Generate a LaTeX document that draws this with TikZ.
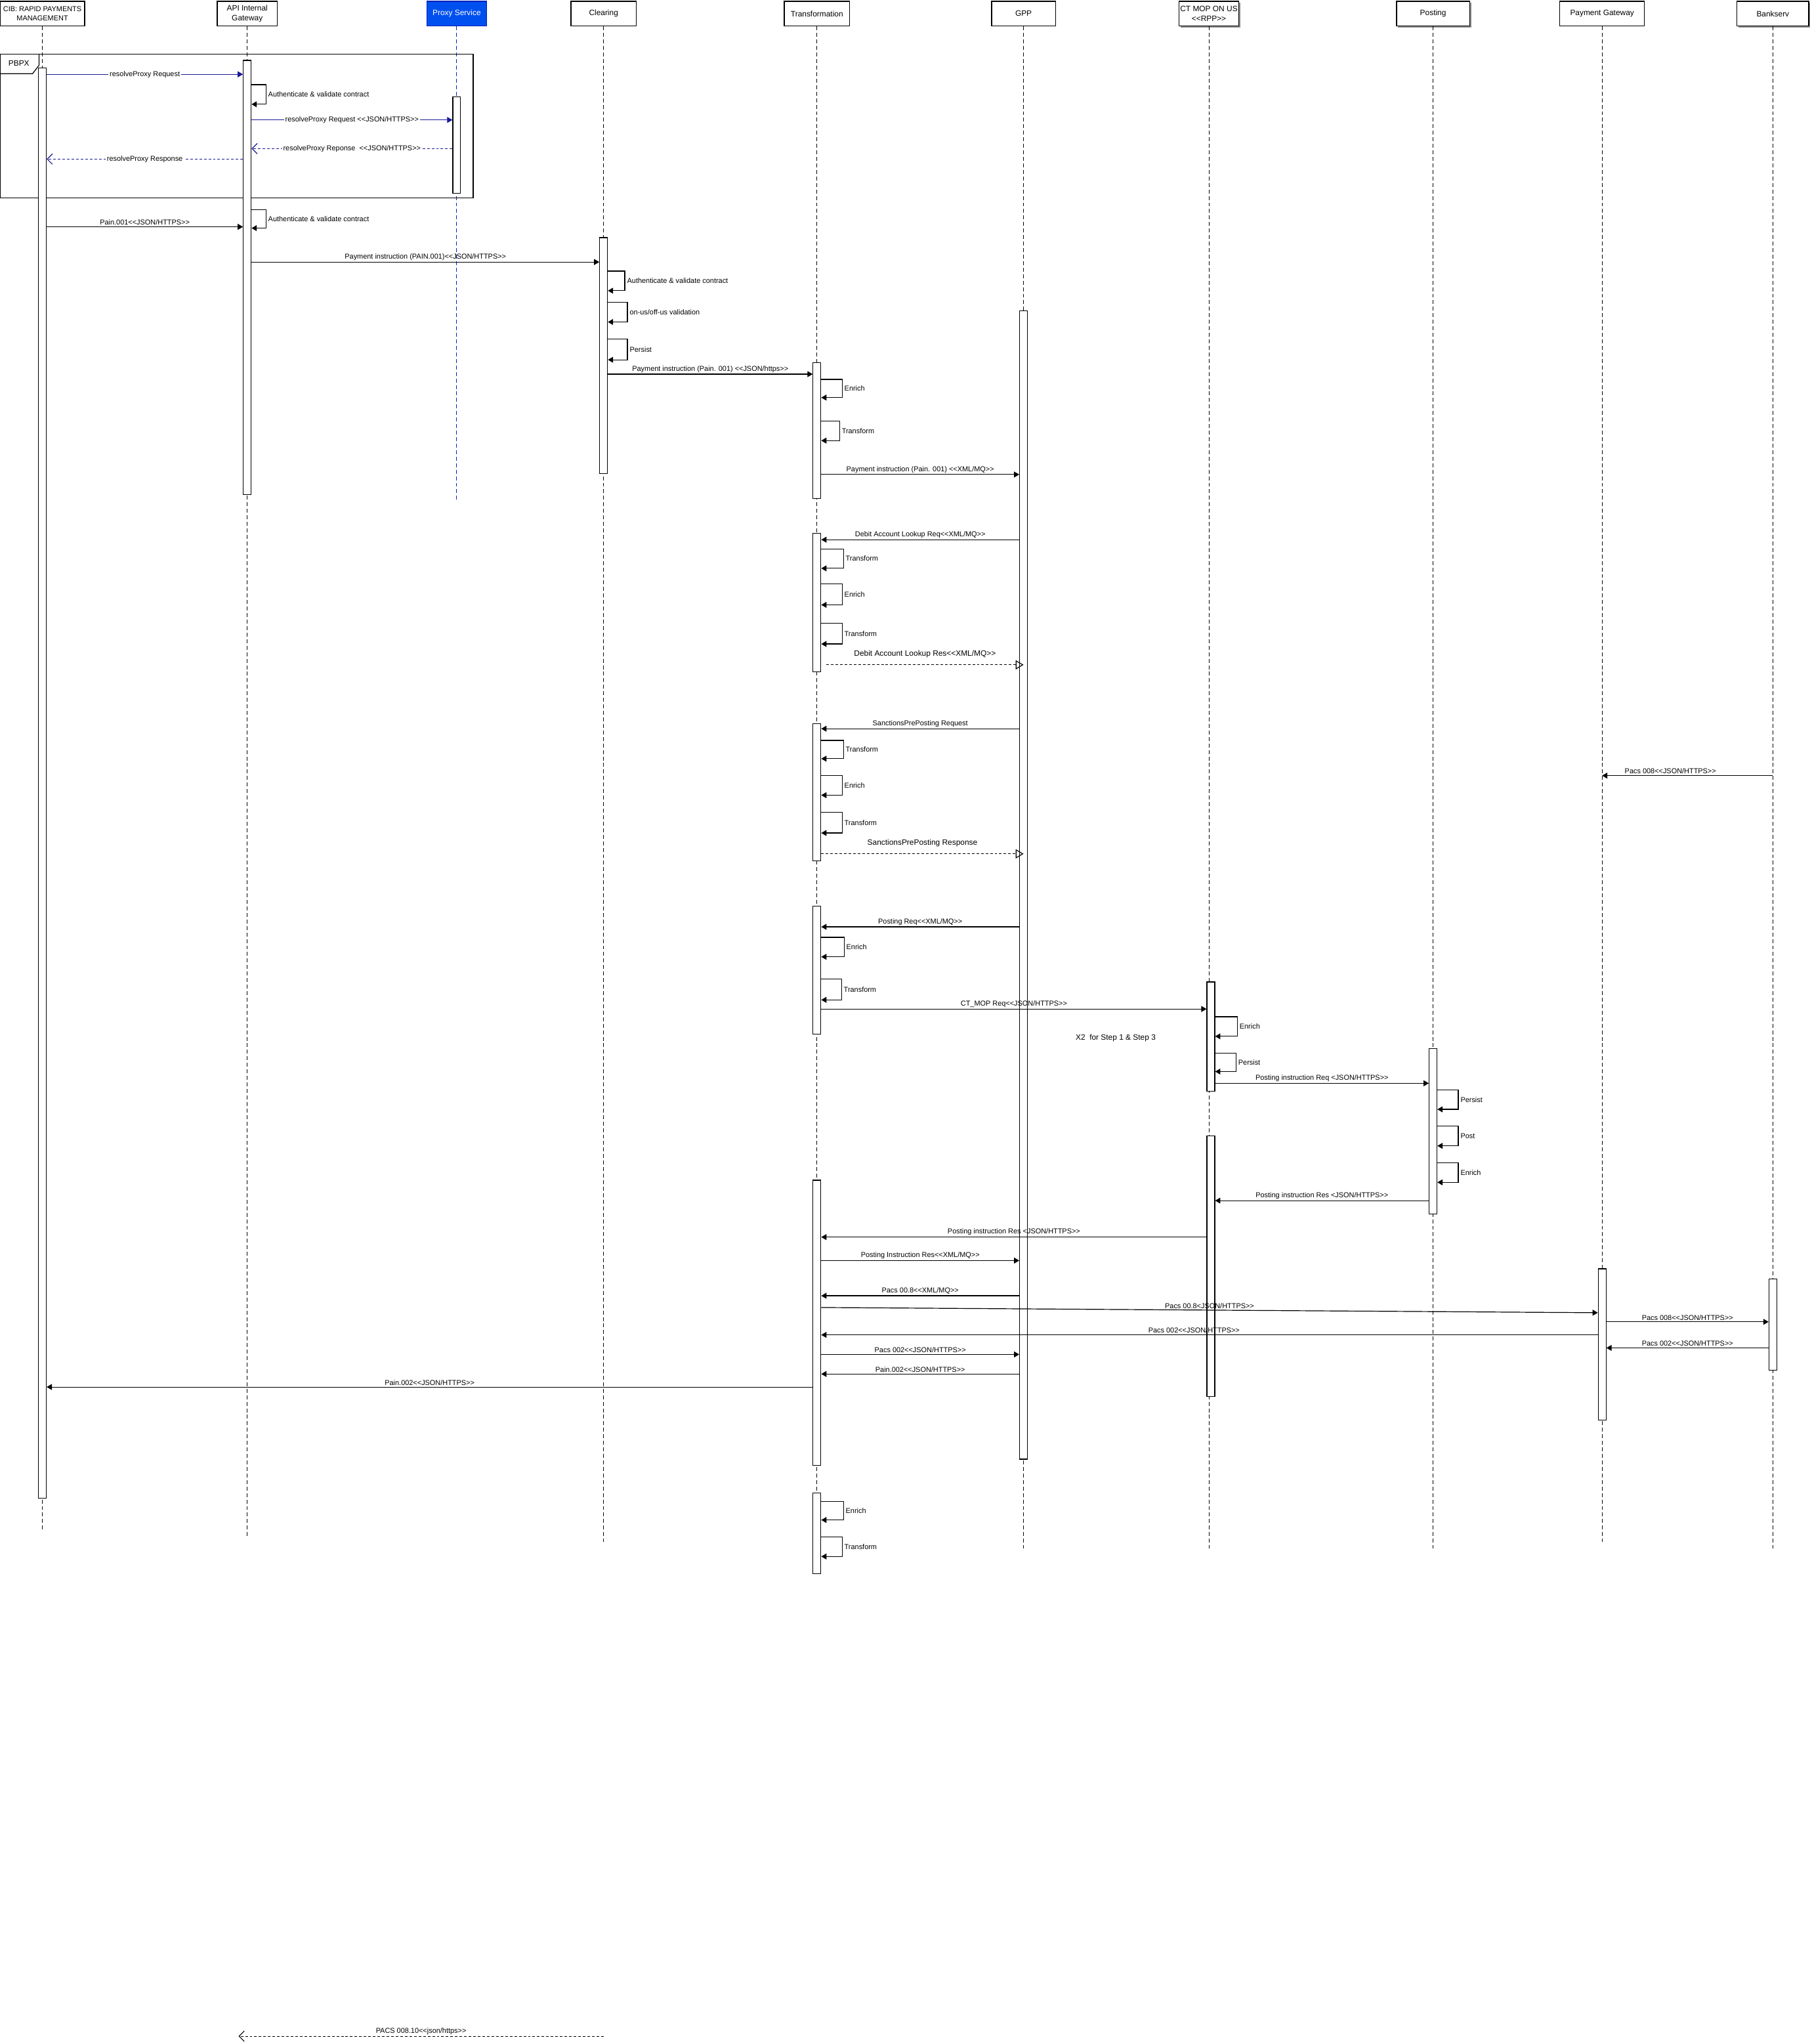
\documentclass[tikz,border=0pt]{standalone}
\usepackage{fontspec}
\newfontfamily\seqfont{Liberation Sans}
\usetikzlibrary{positioning}
\usetikzlibrary{arrows.meta}
\usetikzlibrary{shadows}
\definecolor{proxyfill}{RGB}{0,80,239}
\definecolor{proxyedge}{RGB}{0,29,188}
\definecolor{callblue}{RGB}{25,25,150}
\tikzset{actor/.style={draw,fill=white,minimum height=19pt,inner sep=1pt,align=center,line width=0.7pt,font=\seqfont\fontsize{6}{7.5}\selectfont},
  shadowed/.style={drop shadow={shadow xshift=1.2pt,shadow yshift=-1.2pt,fill=black!45,opacity=1}},
  lifeline/.style={dash pattern=on 3pt off 2pt,line width=0.5pt},
  actbar/.style={draw,fill=white,minimum width=6pt,inner sep=0pt,anchor=north,line width=0.6pt},
  msg/.style={line width=0.6pt,-{Triangle[length=4pt,width=4.5pt]}},
  ret/.style={line width=0.6pt,dash pattern=on 2pt off 1.5pt,-{Triangle[open,length=6pt,width=7pt]}},
  reply/.style={line width=0.6pt,dash pattern=on 2pt off 1.5pt,-{Straight Barb[length=4pt,width=8pt]}},
  bluemsg/.style={msg,draw=callblue},
  bluereply/.style={reply,draw=callblue},
  lbl/.style={above,inner sep=1pt,font=\seqfont\fontsize{5.5}{6.6}\selectfont},
  biglbl/.style={above=4pt,inner sep=1pt,font=\seqfont\fontsize{6}{7.2}\selectfont},
  onlbl/.style={fill=white,inner sep=1pt,font=\seqfont\fontsize{5.5}{6.6}\selectfont},
  selflbl/.style={right,inner sep=1.5pt,font=\seqfont\fontsize{5.5}{6.6}\selectfont},
}

\begin{document}
\begin{tikzpicture}[x=1pt,y=-1pt]
    \useasboundingbox (0,0) rectangle (1390,1568);

    % participants
    \node[actor,minimum width=65pt,font=\seqfont\fontsize{5.5}{7}\selectfont] (cib) at (32.5,10.5) {CIB: RAPID PAYMENTS\\MANAGEMENT};
    \node[actor,minimum width=46pt] (api) [right = 101pt of cib] {API Internal\\Gateway};
    \node[actor,minimum width=46pt,fill=proxyfill,draw=proxyedge,text=white] (proxy) [right = 114pt of api] {Proxy Service};
    \node[actor,minimum width=50pt] (clr) [right = 64pt of proxy] {Clearing};
    \node[actor,minimum width=50pt] (trn) [right = 113pt of clr] {Transformation};
    \node[actor,minimum width=49pt] (gpp) [right = 108.3pt of trn] {GPP};
    \node[actor,minimum width=45pt,shadowed] (ct) [right = 94pt of gpp] {CT MOP ON US\\<<RPP>>};
    \node[actor,minimum width=56pt,shadowed] (post) [right = 120.3pt of ct] {Posting};
    \node[actor,minimum width=65pt] (pg) [right = 68.5pt of post] {Payment Gateway};
    \node[actor,minimum width=55pt,shadowed] (bank) [right = 70.3pt of pg] {Bankserv};

    % lifelines
    \draw[lifeline] (cib.south) -- (cib.south |- 0,1173);
    \draw[lifeline] (api.south) -- (api.south |- 0,1180);
    \draw[lifeline,draw=proxyedge] (proxy.south) -- (proxy.south |- 0,385);
    \draw[lifeline] (clr.south) -- (clr.south |- 0,1183);
    \draw[lifeline] (trn.south) -- (trn.south |- 0,1207);
    \draw[lifeline] (gpp.south) -- (gpp.south |- 0,1188);
    \draw[lifeline] (ct.south) -- (ct.south |- 0,1188);
    \draw[lifeline] (post.south) -- (post.south |- 0,1188);
    \draw[lifeline] (pg.south) -- (pg.south |- 0,1183);
    \draw[lifeline] (bank.south) -- (bank.south |- 0,1188);

    % PBPX fragment
    \draw[line width=0.6pt] (0,41.5) rectangle (363,152);
    \draw[line width=0.6pt] (0,56.5) -- (25,56.5) -- (30,50) -- (30,41.5);
    \node[font=\seqfont\fontsize{6}{7}\selectfont,inner sep=0pt] (pbpx) at (14.5,48.7) {PBPX};

    % activations
    \node[actbar,minimum height=1097pt] (cibA) at (cib.south |- 0,52) {};
    \node[actbar,minimum height=333pt] (apiA) at (api.south |- 0,46) {};
    \node[actbar,minimum height=74pt] (proxyA) at (proxy.south |- 0,74) {};
    \node[actbar,minimum height=181pt] (clrA) at (clr.south |- 0,182) {};
    \node[actbar,minimum height=881pt] (gppA) at (gpp.south |- 0,238) {};
    \node[actbar,minimum height=104pt] (trnA1) at (trn.south |- 0,278) {};
    \node[actbar,minimum height=106pt] (trnA2) at (trn.south |- 0,409) {};
    \node[actbar,minimum height=105pt] (trnA3) at (trn.south |- 0,555) {};
    \node[actbar,minimum height=98pt] (trnA4) at (trn.south |- 0,695) {};
    \node[actbar,minimum height=84pt] (ctA1) at ([xshift=1.5pt]ct.south |- 0,753) {};
    \node[actbar,minimum height=200pt] (ctA2) at ([xshift=1.5pt]ct.south |- 0,871) {};
    \node[actbar,minimum height=127pt] (postA) at (post.south |- 0,804) {};
    \node[actbar,minimum height=219pt] (trnA5) at (trn.south |- 0,905) {};
    \node[actbar,minimum height=116pt] (pgA) at (pg.south |- 0,973) {};
    \node[actbar,minimum height=70pt] (bankA) at (bank.south |- 0,981) {};
    \node[actbar,minimum height=62pt] (trnA6) at (trn.south |- 0,1145) {};

    % proxy resolution
    \draw[bluemsg] (cibA.east |- 0,57) -- node[onlbl] {resolveProxy Request} (apiA.west |- 0,57);
    \draw[msg] (apiA.east |- 0,65) -- ++(11,0) |- node[selflbl,pos=0.25] {Authenticate \& validate contract} (apiA.east |- 0,80);
    \draw[bluemsg] (apiA.east |- 0,92) -- node[onlbl] {resolveProxy Request <<JSON/HTTPS>>} (proxyA.west |- 0,92);
    \draw[bluereply] (proxyA.west |- 0,114) -- node[onlbl] {resolveProxy Reponse \ <<JSON/HTTPS>>} (apiA.east |- 0,114);
    \draw[bluereply] (apiA.west |- 0,122) -- node[onlbl] {resolveProxy Response} (cibA.east |- 0,122);

    % payment initiation
    \draw[msg] (apiA.east |- 0,161) -- ++(11,0) |- node[selflbl,pos=0.25] {Authenticate \& validate contract} (apiA.east |- 0,175);
    \draw[msg] (cibA.east |- 0,174) -- node[lbl] {Pain.001<<JSON/HTTPS>>} (apiA.west |- 0,174);
    \draw[msg] (apiA.east |- 0,201) -- node[lbl] {Payment instruction (PAIN.001)<<JSON/HTTPS>>} (clrA.west |- 0,201);
    \draw[msg] (clrA.east |- 0,208) -- ++(13,0) |- node[selflbl,pos=0.25] {Authenticate \& validate contract} (clrA.east |- 0,223);
    \draw[msg] (clrA.east |- 0,232) -- ++(15,0) |- node[selflbl,pos=0.25] {on-us/off-us validation} (clrA.east |- 0,247);
    \draw[msg] (clrA.east |- 0,260) -- ++(15,0) |- node[selflbl,pos=0.25] {Persist} (clrA.east |- 0,276);
    \draw[msg] (clrA.east |- 0,287) -- node[lbl] {Payment instruction (Pain. 001) <<JSON/https>>} (trnA1.west |- 0,287);
    \draw[msg] (trnA1.east |- 0,291) -- ++(16,0) |- node[selflbl,pos=0.25] {Enrich} (trnA1.east |- 0,305);
    \draw[msg] (trnA1.east |- 0,323) -- ++(14,0) |- node[selflbl,pos=0.25] {Transform} (trnA1.east |- 0,338);
    \draw[msg] (trnA1.east |- 0,364) -- node[lbl] {Payment instruction (Pain. 001) <<XML/MQ>>} (gppA.west |- 0,364);

    % debit account lookup
    \draw[msg] (gppA.west |- 0,414) -- node[lbl] {Debit Account Lookup Req<<XML/MQ>>} (trnA2.east |- 0,414);
    \draw[msg] (trnA2.east |- 0,421) -- ++(17,0) |- node[selflbl,pos=0.25] {Transform} (trnA2.east |- 0,436);
    \draw[msg] (trnA2.east |- 0,448) -- ++(16,0) |- node[selflbl,pos=0.25] {Enrich} (trnA2.east |- 0,464);
    \draw[msg] (trnA2.east |- 0,478) -- ++(16,0) |- node[selflbl,pos=0.25] {Transform} (trnA2.east |- 0,494);
    \coordinate (lookupRes) at (634,510);
    \draw[ret] (lookupRes) -- node[biglbl] {Debit Account Lookup Res<<XML/MQ>>} (gppA.center |- lookupRes);

    % sanctions
    \draw[msg] (gppA.west |- 0,559) -- node[lbl] {SanctionsPrePosting Request} (trnA3.east |- 0,559);
    \draw[msg] (trnA3.east |- 0,568) -- ++(17,0) |- node[selflbl,pos=0.25] {Transform} (trnA3.east |- 0,582);
    \draw[msg] (trnA3.east |- 0,595) -- ++(16,0) |- node[selflbl,pos=0.25] {Enrich} (trnA3.east |- 0,610);
    \draw[msg] (trnA3.east |- 0,623) -- ++(16,0) |- node[selflbl,pos=0.25] {Transform} (trnA3.east |- 0,639);
    \draw[ret] (trnA3.east |- 0,655) -- node[biglbl] {SanctionsPrePosting Response} (gppA.center |- 0,655);
    \draw[msg] (bank.south |- 0,595) -- node[lbl,pos=0.6] {Pacs 008<<JSON/HTTPS>>} (pg.south |- 0,595);

    % posting
    \draw[msg] (gppA.west |- 0,711) -- node[lbl] {Posting Req<<XML/MQ>>} (trnA4.east |- 0,711);
    \draw[msg] (trnA4.east |- 0,719) -- ++(17.5,0) |- node[selflbl,pos=0.25] {Enrich} (trnA4.east |- 0,734);
    \draw[msg] (trnA4.east |- 0,751) -- ++(15.5,0) |- node[selflbl,pos=0.25] {Transform} (trnA4.east |- 0,767);
    \draw[msg] (trnA4.east |- 0,774) -- node[lbl] {CT\_MOP Req<<JSON/HTTPS>>} (ctA1.west |- 0,774);
    \node[font=\seqfont\fontsize{6}{7.2}\selectfont] (x2note) at (856,796.5) {X2 \ for Step 1 \& Step 3};
    \draw[msg] (ctA1.east |- 0,780) -- ++(17,0) |- node[selflbl,pos=0.25] {Enrich} (ctA1.east |- 0,795);
    \draw[msg] (ctA1.east |- 0,808) -- ++(16,0) |- node[selflbl,pos=0.25] {Persist} (ctA1.east |- 0,822);
    \draw[msg] (ctA1.east |- 0,831) -- node[lbl] {Posting instruction Req <JSON/HTTPS>>} (postA.west |- 0,831);
    \draw[msg] (postA.east |- 0,836) -- ++(16,0) |- node[selflbl,pos=0.25] {Persist} (postA.east |- 0,851);
    \draw[msg] (postA.east |- 0,864) -- ++(16,0) |- node[selflbl,pos=0.25] {Post} (postA.east |- 0,879);
    \draw[msg] (postA.east |- 0,892) -- ++(16,0) |- node[selflbl,pos=0.25] {Enrich} (postA.east |- 0,907);
    \draw[msg] (postA.west |- 0,921) -- node[lbl] {Posting instruction Res <JSON/HTTPS>>} (ctA2.east |- 0,921);
    \draw[msg] (ctA2.west |- 0,949) -- node[lbl] {Posting instruction Res <JSON/HTTPS>>} (trnA5.east |- 0,949);

    % clearing out and status
    \draw[msg] (trnA5.east |- 0,967) -- node[lbl] {Posting Instruction Res<<XML/MQ>>} (gppA.west |- 0,967);
    \draw[msg] (gppA.west |- 0,994) -- node[lbl] {Pacs 00.8<<XML/MQ>>} (trnA5.east |- 0,994);
    \draw[msg] (trnA5.east |- 0,1003) -- node[lbl] {Pacs 00.8<JSON/HTTPS>>} (pgA.west |- 0,1007);
    \draw[msg] (pgA.east |- 0,1014) -- node[lbl] {Pacs 008<<JSON/HTTPS>>} (bankA.west |- 0,1014);
    \draw[msg] (pgA.west |- 0,1024) -- node[lbl,pos=0.52] {Pacs 002<<JSON/HTTPS>>} (trnA5.east |- 0,1024);
    \draw[msg] (bankA.west |- 0,1034) -- node[lbl] {Pacs 002<<JSON/HTTPS>>} (pgA.east |- 0,1034);
    \draw[msg] (trnA5.east |- 0,1039) -- node[lbl] {Pacs 002<<JSON/HTTPS>>} (gppA.west |- 0,1039);
    \draw[msg] (gppA.west |- 0,1054) -- node[lbl] {Pain.002<<JSON/HTTPS>>} (trnA5.east |- 0,1054);
    \draw[msg] (trnA5.west |- 0,1064) -- node[lbl] {Pain.002<<JSON/HTTPS>>} (cibA.east |- 0,1064);

    \draw[msg] (trnA6.east |- 0,1152) -- ++(17,0) |- node[selflbl,pos=0.25] {Enrich} (trnA6.east |- 0,1166);
    \draw[msg] (trnA6.east |- 0,1179) -- ++(16,0) |- node[selflbl,pos=0.25] {Transform} (trnA6.east |- 0,1194);

    \coordinate (pacsEnd) at (183,1562);
    \draw[reply] (clr.south |- pacsEnd) -- node[lbl] {PACS 008.10<<json/https>>} (pacsEnd);
  \end{tikzpicture}
\end{document}
